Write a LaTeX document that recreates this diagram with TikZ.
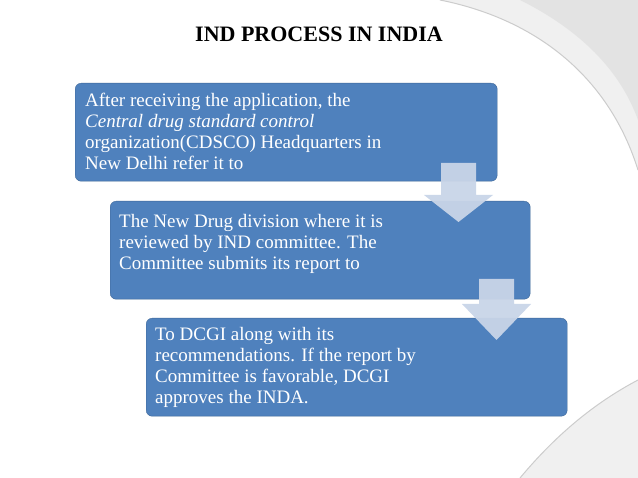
\documentclass[tikz,border=0pt]{standalone}
\usepackage{fontspec}
\setmainfont{Liberation Serif}
\definecolor{boxblue}{HTML}{4F81BD}
\definecolor{arrowc}{HTML}{C9D5E8}
\begin{document}
\begin{tikzpicture}[x=1pt,y=-1pt,
  stepbox/.style={draw=boxblue!80!black,fill=boxblue,rounded corners=6pt,minimum width=#1,minimum height=98pt,anchor=north west,inner sep=0pt},
  txt/.style={text=white,font=\fontsize{19}{21}\selectfont,align=left,anchor=north west,inner sep=0pt},
  arr/.style={fill=arrowc,draw=none,fill opacity=0.95}]
\useasboundingbox (0,0) rectangle (638,478);
\fill[white] (0,0) rectangle (638,478);
% background decorations
\fill[gray!12] (440,0) .. controls (540,20) and (610,80) .. (638,170) -- (638,0) -- cycle;
\fill[gray!22] (520,0) .. controls (580,30) and (620,70) .. (638,120) -- (638,0) -- cycle;
\draw[gray!40,line width=1pt] (440,0) .. controls (540,20) and (610,80) .. (638,170);
\fill[gray!12] (520,478) .. controls (560,430) and (600,400) .. (638,380) -- (638,478) -- cycle;
\draw[gray!40,line width=1pt] (520,478) .. controls (560,430) and (600,400) .. (638,380);
\node[font=\bfseries\fontsize{22}{26}\selectfont,inner sep=0pt] (title) at (319,34) {IND PROCESS IN INDIA};
% boxes
\node[stepbox=422pt] (b1) at (75,83) {};
\node[stepbox=420pt] (b2) at (110,201) {};
\node[stepbox=421pt] (b3) at (146,318) {};
% arrows
\fill[arr] (441,163) -- (476,163) -- (476,195) -- (493,195) -- (458.5,222) -- (424,195) -- (441,195) -- cycle;
\fill[arr] (479,279) -- (514,279) -- (514,304) -- (531,304) -- (496.5,340) -- (462,304) -- (479,304) -- cycle;
\node[txt] (t1) at (85,93) {After receiving the application, the\\\textit{Central drug standard control}\\organization(CDSCO) Headquarters in\\New Delhi refer it to};
\node[txt] (t2) at (119,214) {The New Drug division where it is\\reviewed by IND committee. The\\Committee submits its report to};
\node[txt] (t3) at (155,327) {To DCGI along with its\\recommendations. If the report by\\Committee is favorable, DCGI\\approves the INDA.};
\end{tikzpicture}
\end{document}
